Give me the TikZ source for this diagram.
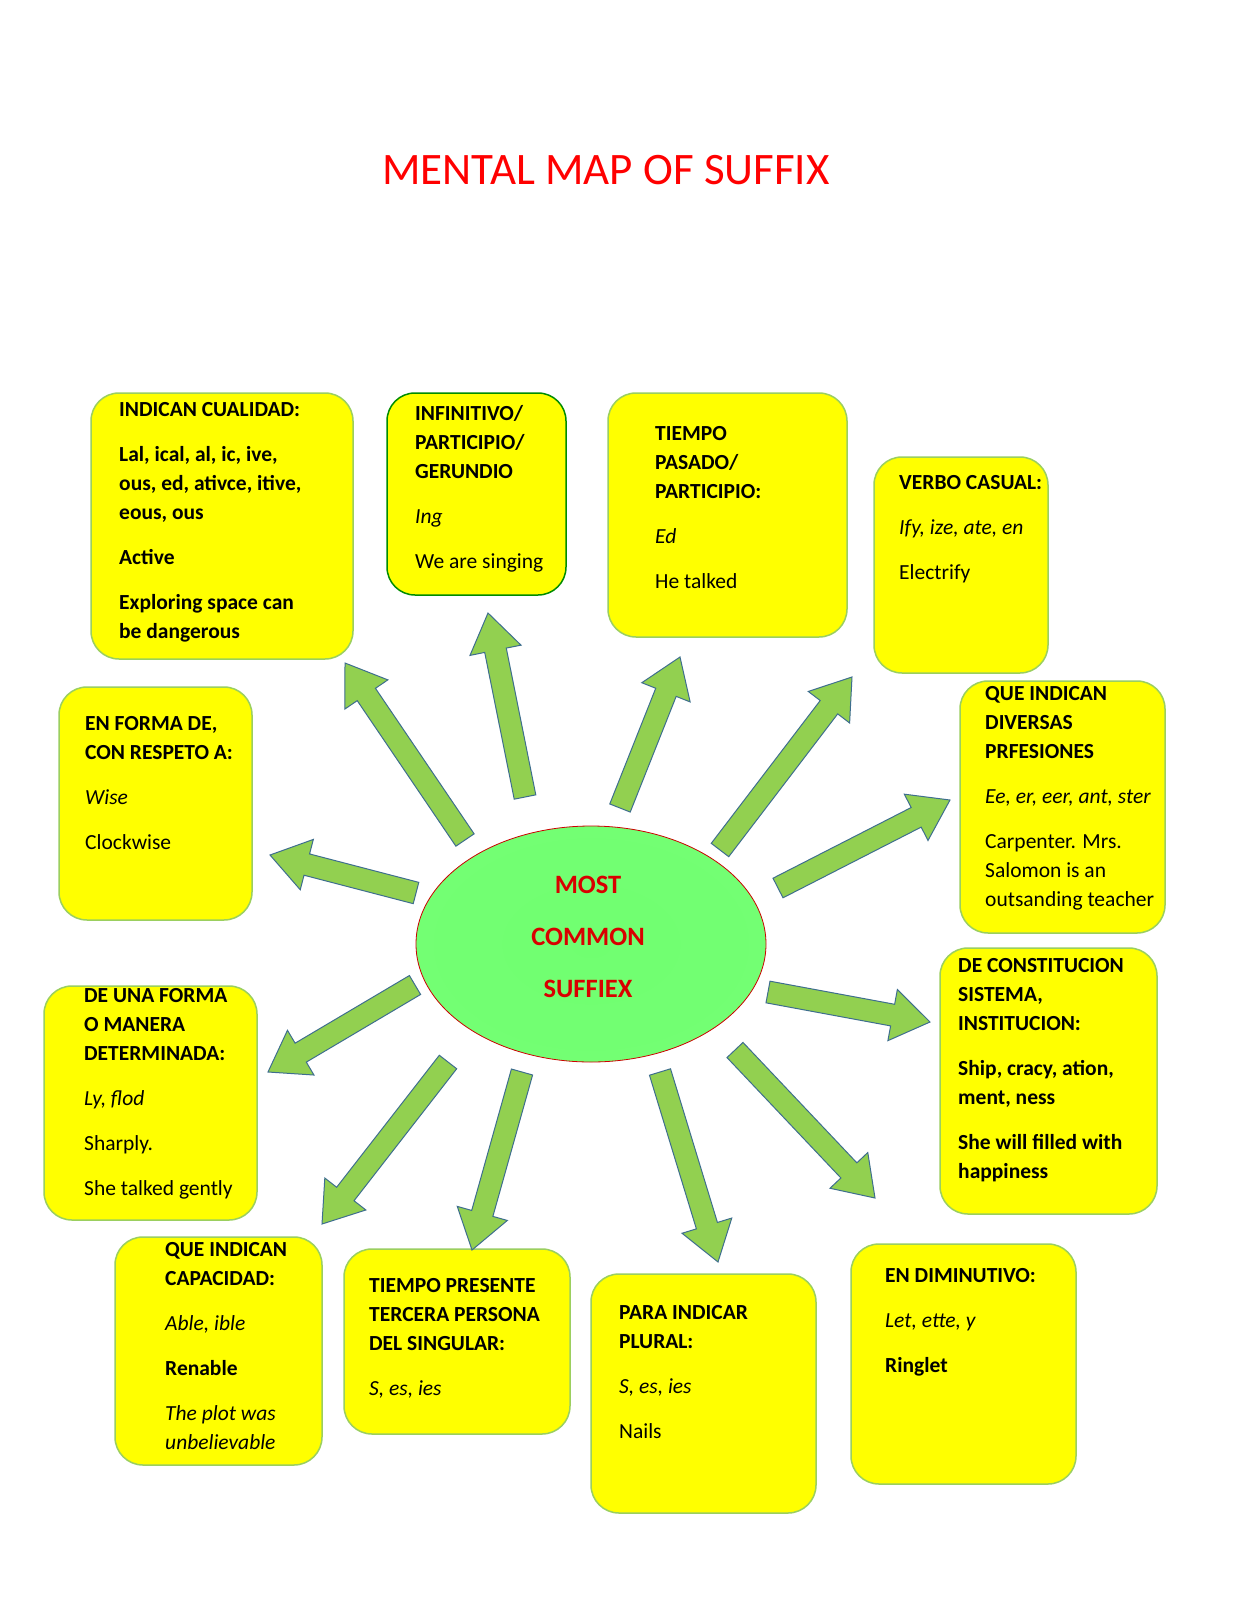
\documentclass[tikz,border=0pt]{standalone}
\usepackage{fontspec}
\setmainfont{Carlito}
\usetikzlibrary{calc}
\definecolor{bx}{HTML}{FFFF00}
\definecolor{bd}{HTML}{9BCF5F}
\definecolor{ar}{HTML}{92D050}
\definecolor{ard}{HTML}{3E6E8E}
\tikzset{
 box/.style={draw=bd,line width=1.5pt,fill=bx,rounded corners=28pt},
 txt/.style={anchor=north west,align=left,inner sep=0pt,font=\fontsize{21.5}{29}\selectfont},
 arr/.style={fill=ar,draw=ard,line width=1pt,line join=miter}
}
\newcommand{\bx}[5]{\draw[box,#5] (#1,-#2) rectangle (#3,-#4);}
\newcommand{\fatarrow}[2]{\draw[arr] let \p1=(#1),\p2=(#2),\n1={atan2(\y2-\y1,\x2-\x1)},\n2={veclen(\x2-\x1,\y2-\y1)} in [shift={(\p1)},rotate=\n1] (0,-11)--(\n2-38,-11)--(\n2-38,-26)--(\n2,0)--(\n2-38,26)--(\n2-38,11)--(0,11)--cycle;}
\begin{document}
\begin{tikzpicture}[x=1pt,y=1pt]
\useasboundingbox[fill=white] (0,0) rectangle (1237,-1600);
\node[text=red,font=\fontsize{45}{50}\selectfont] (title) at (606,-170) {MENTAL MAP OF SUFFIX};
% boxes
\bx{91}{393}{353}{659}{}
\bx{387}{393}{566}{595}{draw=green!55!black}
\bx{608}{393}{847}{637}{}
\bx{874}{457}{1048}{673}{}
\bx{960}{681}{1165}{933}{}
\bx{940}{948}{1157}{1214}{}
\bx{851}{1244}{1076}{1484}{}
\bx{591}{1274}{816}{1513}{}
\bx{344}{1249}{570}{1434}{}
\bx{115}{1237}{322}{1465}{}
\bx{44}{986}{257}{1220}{}
\bx{59}{687}{252}{920}{}
% texts
\node[txt] (t1) at (119,-402) {\textbf{INDICAN CUALIDAD:}\\[16pt]\textbf{Lal, ical, al, ic, ive,}\\\textbf{ous, ed, ativce, itive,}\\\textbf{eous, ous}\\[16pt]\textbf{Active}\\[16pt]\textbf{Exploring space can}\\\textbf{be dangerous}};
\node[txt] (t2) at (415,-405) {\textbf{INFINITIVO/}\\\textbf{PARTICIPIO/}\\\textbf{GERUNDIO}\\[16pt]\textit{Ing}\\[16pt]We are singing};
\node[txt] (t3) at (655,-426) {\textbf{TIEMPO}\\\textbf{PASADO/}\\\textbf{PARTICIPIO:}\\[16pt]\textit{Ed}\\[16pt]He talked};
\node[txt] (t4) at (899,-475) {\textbf{VERBO CASUAL:}\\[16pt]\textit{Ify, ize, ate, en}\\[16pt]Electrify};
\node[txt] (t5) at (985,-686) {\textbf{QUE INDICAN}\\\textbf{DIVERSAS}\\\textbf{PRFESIONES}\\[16pt]\textit{Ee, er, eer, ant, ster}\\[16pt]Carpenter. Mrs.\\Salomon is an\\outsanding teacher};
\node[txt] (t6) at (958,-958) {\textbf{DE CONSTITUCION}\\\textbf{SISTEMA,}\\\textbf{INSTITUCION:}\\[16pt]\textbf{Ship, cracy, ation,}\\\textbf{ment, ness}\\[16pt]\textbf{She will filled with}\\\textbf{happiness}};
\node[txt] (t7) at (885,-1268) {\textbf{EN DIMINUTIVO:}\\[16pt]\textit{Let, ette, y}\\[16pt]\textbf{Ringlet}};
\node[txt] (t8) at (619,-1305) {\textbf{PARA INDICAR}\\\textbf{PLURAL:}\\[16pt]\textit{S, es, ies}\\[16pt]Nails};
\node[txt] (t9) at (369,-1278) {\textbf{TIEMPO PRESENTE}\\\textbf{TERCERA PERSONA}\\\textbf{DEL SINGULAR:}\\[16pt]\textit{S, es, ies}};
\node[txt] (t10) at (165,-1242) {\textbf{QUE INDICAN}\\\textbf{CAPACIDAD:}\\[16pt]\textit{Able, ible}\\[16pt]\textbf{Renable}\\[16pt]\textit{The plot was}\\\textit{unbelievable}};
\node[txt] (t11) at (84,-988) {\textbf{DE UNA FORMA}\\\textbf{O MANERA}\\\textbf{DETERMINADA:}\\[16pt]\textit{Ly, flod}\\[16pt]Sharply.\\[16pt]She talked gently};
\node[txt] (t12) at (85,-716) {\textbf{EN FORMA DE,}\\\textbf{CON RESPETO A:}\\[16pt]\textit{Wise}\\[16pt]Clockwise};
% center
\shade[inner color=green!45!white!80!green,outer color=green!55,draw=red!80!black,line width=0.8pt] (591,-944) ellipse [x radius=175,y radius=118];
\node[text=red!85!black,font=\bfseries\fontsize{26.5}{52}\selectfont,align=center] (c) at (588,-937) {MOST\\COMMON\\SUFFIEX};
% arrows
\foreach \i/\ax/\ay/\bx/\by in {1/465/840/345/663,2/525/797/488/613,3/620/808/680/657,4/720/850/852/677,5/778/888/950/800,6/768/992/930/1022,7/735/1050/875/1198,8/660/1072/718/1262,9/522/1072/472/1250,10/448/1062/322/1224,11/415/985/268/1072,12/416/893/270/855}{
 \coordinate (s\i) at (\ax,-\ay); \coordinate (e\i) at (\bx,-\by);
 \fatarrow{s\i}{e\i}
}
\end{tikzpicture}
\end{document}
